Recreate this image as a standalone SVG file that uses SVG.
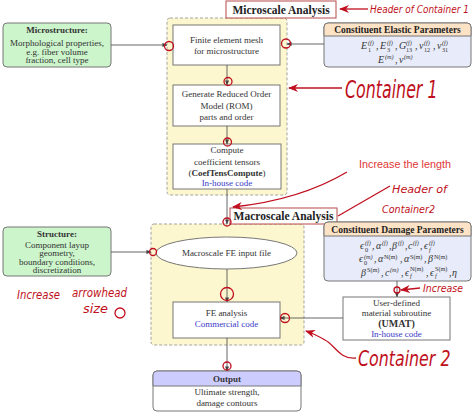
<svg xmlns="http://www.w3.org/2000/svg" width="474" height="414" viewBox="0 0 474 414">
<defs>
<style>
.t{font-family:"Liberation Serif","Times New Roman",serif;font-size:9px;fill:#333;text-anchor:middle}
.b{font-weight:bold}
.h{font-family:"Liberation Serif","Times New Roman",serif;font-size:11.5px;font-weight:bold;fill:#222;text-anchor:middle}
.blue{fill:#3a3ac8}
.box{fill:#fff;stroke:#777;stroke-width:1}
.cont{fill:#fdf7cf;stroke:#999;stroke-width:0.9;stroke-dasharray:3,2}
.hdr{fill:#fff;stroke:#b84a4a;stroke-width:1}
.con{fill:none;stroke:#555;stroke-width:0.9}
.m{font-family:"Liberation Serif","Times New Roman",serif;font-size:10px;fill:#333;font-style:italic}
.s{font-size:6.2px}
.n{font-style:normal}
.red{fill:none;stroke:#c01020;stroke-width:1.3}
.hand{font-family:"DejaVu Sans",sans-serif;font-style:italic;fill:#c01020}
</style>
<marker id="ar" viewBox="0 0 6 6" refX="5.5" refY="3" markerWidth="5" markerHeight="5" orient="auto" markerUnits="userSpaceOnUse">
<path d="M0,0.5 L6,3 L0,5.5 z" fill="#444"/>
</marker>
<marker id="rar" viewBox="0 0 10 10" refX="9" refY="5" markerWidth="10" markerHeight="10" orient="auto" markerUnits="userSpaceOnUse">
<path d="M0,1 L10,5 L0,9 L3,5 z" fill="#c01020"/>
</marker>
</defs>
<rect width="474" height="414" fill="#fff"/>

<g id="container1"><rect class="cont" x="167" y="18" width="120" height="177" rx="3"/></g>
<g id="container2"><rect class="cont" x="151" y="224" width="153" height="121" rx="3"/></g>

<g id="header1"><rect class="hdr" x="226" y="1" width="110" height="17"/><text class="h" x="281" y="13.5">Microscale Analysis</text></g>
<g id="header2"><rect class="hdr" x="230" y="208" width="107" height="16"/><text class="h" x="283.5" y="220">Macroscale Analysis</text></g>

<g id="microstructure">
<rect x="3" y="23" width="108" height="44" rx="4" fill="#ccf5cc" stroke="#777"/>
<text class="t b" x="57" y="33">Microstructure:</text>
<text class="t" x="57" y="46">Morphological properties,</text>
<text class="t" x="57" y="54.5">e.g.  fiber volume</text>
<text class="t" x="57" y="63">fraction, cell type</text>
</g>

<g id="fe-mesh">
<rect class="box" x="173" y="25" width="107" height="40"/>
<text class="t" x="226.5" y="43">Finite element mesh</text>
<text class="t" x="226.5" y="54">for microstructure</text>
</g>

<g id="rom">
<rect class="box" x="173" y="85" width="107" height="41"/>
<text class="t" x="226.5" y="97">Generate Reduced Order</text>
<text class="t" x="226.5" y="108.5">Model (ROM)</text>
<text class="t" x="226.5" y="120">parts and order</text>
</g>

<g id="compute">
<rect class="box" x="173" y="144" width="108" height="45"/>
<text class="t" x="227" y="153">Compute</text>
<text class="t" x="227" y="164.5">coefficient tensors</text>
<text class="t" x="227" y="175.5">(<tspan font-weight="bold">CoefTensCompute</tspan>)</text>
<text class="t blue" x="227" y="186">In-house code</text>
</g>

<g id="elastic">
<rect x="324" y="23" width="147" height="44" rx="4" fill="#e8ebf9" stroke="#777"/>
<path d="M324,36 V27 a4,4 0 0 1 4,-4 H467 a4,4 0 0 1 4,4 V36 z" fill="#fde3c6" stroke="#777"/>
<text class="h" x="397.5" y="33" style="font-size:9.5px">Constituent Elastic Parameters</text>
<text class="m"><tspan x="361" y="49">E</tspan><tspan class="s n" x="368" y="51.5">1</tspan><tspan class="s" x="368" y="44.5">(f)</tspan><tspan class="n" x="376" y="49">,</tspan><tspan x="380" y="49">E</tspan><tspan class="s n" x="387" y="51.5">3</tspan><tspan class="s" x="387" y="44.5">(f)</tspan><tspan class="n" x="395" y="49">,</tspan><tspan x="399" y="49">G</tspan><tspan class="s n" x="406" y="51.5">13</tspan><tspan class="s" x="406" y="44.5">(f)</tspan><tspan class="n" x="415" y="49">,</tspan><tspan x="419" y="49">ν</tspan><tspan class="s n" x="424" y="51.5">12</tspan><tspan class="s" x="424" y="44.5">(f)</tspan><tspan class="n" x="433" y="49">,</tspan><tspan x="437" y="49">ν</tspan><tspan class="s n" x="442" y="51.5">31</tspan><tspan class="s" x="442" y="44.5">(f)</tspan></text>
<text class="m"><tspan x="378" y="63">E</tspan><tspan class="s" x="385" y="59">(m)</tspan><tspan class="n" x="395" y="63">,</tspan><tspan x="399" y="63">ν</tspan><tspan class="s" x="404" y="59">(m)</tspan></text>
</g>

<g id="structure">
<rect x="3" y="227" width="108" height="49" rx="4" fill="#ccf5cc" stroke="#777"/>
<text class="t b" x="57" y="236.5">Structure:</text>
<text class="t" x="57" y="247.5">Component layup</text>
<text class="t" x="57" y="256">geometry,</text>
<text class="t" x="57" y="264.5">boundary conditions,</text>
<text class="t" x="57" y="273">discretization</text>
</g>

<g id="fe-input">
<ellipse cx="226.5" cy="253" rx="70.5" ry="16" fill="#fff" stroke="#777"/>
<text class="t" x="226.5" y="256">Macroscale FE input file</text>
</g>

<g id="fe-analysis">
<rect class="box" x="173" y="302" width="107" height="36"/>
<text class="t" x="226.5" y="316">FE analysis</text>
<text class="t blue" x="226.5" y="327">Commercial code</text>
</g>

<g id="damage">
<rect x="324" y="222" width="147" height="59" rx="4" fill="#e8ebf9" stroke="#777"/>
<path d="M324,236 V226 a4,4 0 0 1 4,-4 H467 a4,4 0 0 1 4,4 V236 z" fill="#fde3c6" stroke="#777"/>
<text class="h" x="397.5" y="232.5" style="font-size:9.5px">Constituent Damage Parameters</text>
<text class="m"><tspan x="360" y="249">ϵ</tspan><tspan class="s n" x="365" y="251.5">0</tspan><tspan class="s" x="365" y="244.5">(f)</tspan><tspan class="n" x="372" y="249">,</tspan><tspan x="376" y="249">α</tspan><tspan class="s" x="382" y="245">(f)</tspan><tspan class="n" x="389" y="249">,</tspan><tspan x="392" y="249">β</tspan><tspan class="s" x="398" y="245">(f)</tspan><tspan class="n" x="405" y="249">,</tspan><tspan x="408" y="249">c</tspan><tspan class="s" x="413" y="245">(f)</tspan><tspan class="n" x="420" y="249">,</tspan><tspan x="424" y="249">ϵ</tspan><tspan class="s" x="429" y="251.5">f</tspan><tspan class="s" x="429" y="244.5">(f)</tspan></text>
<text class="m"><tspan x="359" y="262">ϵ</tspan><tspan class="s n" x="364" y="264.5">0</tspan><tspan class="s" x="364" y="258.5">(m)</tspan><tspan class="n" x="374" y="262">,</tspan><tspan x="378" y="262">α</tspan><tspan class="s n" x="384" y="258.5">N(m)</tspan><tspan class="n" x="400" y="262">,</tspan><tspan x="404" y="262">α</tspan><tspan class="s n" x="410" y="258.5">S(m)</tspan><tspan class="n" x="424" y="262">,</tspan><tspan x="428" y="262">β</tspan><tspan class="s n" x="434" y="258.5">N(m)</tspan></text>
<text class="m"><tspan x="361" y="275.5">β</tspan><tspan class="s n" x="367" y="271.5">S(m)</tspan><tspan class="n" x="381" y="275.5">,</tspan><tspan x="385" y="275.5">c</tspan><tspan class="s" x="390" y="271.5">(m)</tspan><tspan class="n" x="401" y="275.5">,</tspan><tspan x="405" y="275.5">ϵ</tspan><tspan class="s" x="410" y="278">f</tspan><tspan class="s n" x="410" y="271">N(m)</tspan><tspan class="n" x="426" y="275.5">,</tspan><tspan x="430" y="275.5">ϵ</tspan><tspan class="s" x="435" y="278">f</tspan><tspan class="s n" x="435" y="271">S(m)</tspan><tspan class="n" x="449" y="275.5">,</tspan><tspan x="452" y="275.5">η</tspan></text>
</g>

<g id="umat">
<rect class="box" x="343" y="297" width="107" height="43"/>
<text class="t" x="396.5" y="306">User-defined</text>
<text class="t" x="396.5" y="316">material subroutine</text>
<text class="t b" x="396.5" y="327" style="font-size:10px">(UMAT)</text>
<text class="t blue" x="396.5" y="337">In-house code</text>
</g>

<g id="output">
<rect x="153" y="371" width="148" height="40" rx="4" fill="#fff" stroke="#777"/>
<path d="M153,386 V375 a4,4 0 0 1 4,-4 H297 a4,4 0 0 1 4,4 V386 z" fill="#ccccff" stroke="#777"/>
<text class="t b" x="227" y="381.5">Output</text>
<text class="t" x="227" y="395">Ultimate strength,</text>
<text class="t" x="227" y="406">damage contours</text>
</g>

<g id="connectors">
<path class="con" d="M111,45 H167" marker-end="url(#ar)"/>
<path class="con" d="M324,44 H287" marker-end="url(#ar)"/>
<path class="con" d="M227,65 V85" marker-end="url(#ar)"/>
<path class="con" d="M227,126 V144" marker-end="url(#ar)"/>
<path class="con" d="M227,189 V224" marker-end="url(#ar)"/>
<path class="con" d="M111,252 H151" marker-end="url(#ar)"/>
<path class="con" d="M227,269 V302" marker-end="url(#ar)"/>
<path class="con" d="M343,318 H280" marker-end="url(#ar)"/>
<path class="con" d="M397,281 V297" marker-end="url(#ar)"/>
<path class="con" d="M227,338 V371" marker-end="url(#ar)"/>
</g>

<g id="annotations">
<circle class="red" cx="169" cy="46" r="4.5"/>
<circle class="red" cx="286" cy="43.5" r="4.5"/>
<circle class="red" cx="228" cy="81.5" r="4"/>
<circle class="red" cx="227.5" cy="142" r="4"/>
<circle class="red" cx="227" cy="222" r="4"/>
<circle class="red" cx="153" cy="252" r="3.5"/>
<circle class="red" cx="227" cy="294" r="6.5"/>
<circle class="red" cx="285" cy="318" r="4.5"/>
<circle class="red" cx="227" cy="366" r="4"/>
<circle class="red" cx="397" cy="290" r="3"/>
<circle class="red" cx="120" cy="313" r="5"/>
<path class="red" d="M368,9 H340" marker-end="url(#rar)"/>
<text class="hand" transform="translate(370,13) scale(0.85,1)" style="font-size:10.5px">Header of Container 1</text>
<path class="red" d="M342,88 H289" marker-end="url(#rar)"/>
<text class="hand" transform="translate(345,98) scale(0.66,1)" style="font-size:24px">Container 1</text>
<text x="359" y="168" textLength="92" lengthAdjust="spacingAndGlyphs" style="font-family:'Liberation Sans',Arial,sans-serif;font-size:11px;fill:#e03838">Increase the length</text>
<path class="red" d="M347,172 Q300,200 233,207" marker-end="url(#rar)"/>
<path class="red" d="M390,186 L338,216"/>
<text class="hand" x="392" y="193" textLength="55" lengthAdjust="spacingAndGlyphs" style="font-size:11px">Header of</text>
<text class="hand" x="382" y="213" textLength="53" lengthAdjust="spacingAndGlyphs" style="font-size:11px">Container2</text>
<path class="red" d="M420,288 L401,290" marker-end="url(#rar)"/>
<text class="hand" x="423" y="292" textLength="40" lengthAdjust="spacingAndGlyphs" style="font-size:10px">Increase</text>
<text class="hand" x="17" y="299" textLength="43" lengthAdjust="spacingAndGlyphs" style="font-size:12px">Increase</text>
<text class="hand" x="72" y="297" textLength="55" lengthAdjust="spacingAndGlyphs" style="font-size:12px">arrowhead</text>
<text class="hand" x="83" y="313" textLength="25" lengthAdjust="spacingAndGlyphs" style="font-size:12px">size</text>
<path class="red" d="M356,358 C340,360 335,345 325,340 C318,336 312,333 306,331" marker-end="url(#rar)"/>
<text class="hand" transform="translate(358,366) scale(0.72,1)" style="font-size:22px">Container 2</text>
</g>
</svg>
